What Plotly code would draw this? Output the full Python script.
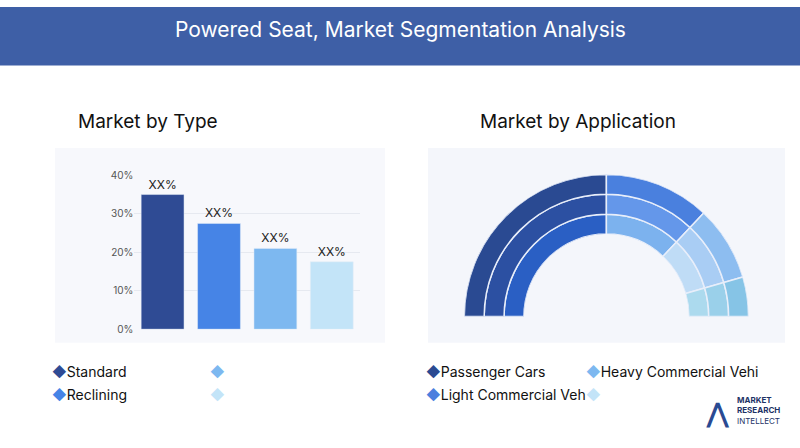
import plotly.graph_objects as go

types = ["Standard", "Reclining", "Type 3", "Type 4"]
type_values = [35, 27.5, 21, 17.5]
type_colors = ["#2f4b94", "#4684e6", "#7db8f0", "#c3e4f8"]
type_legend = ["Standard", "Reclining", "", ""]

apps = ["Passenger Cars", "Light Commercial Vehicles", "Heavy Commercial Vehicles", "Other"]
app_shares = [50, 24, 17, 9]
ring_colors = [
    ["#2a4a92", "#4a80de", "#8dbdf0", "#86c4e6"],
    ["#2c50a2", "#6497ea", "#a9cdf4", "#9ad0ea"],
    ["#2a5fc4", "#7cb2ee", "#bfdcf6", "#acdaee"],
]
app_legend_colors = ["#2a4a92", "#4a80de", "#7db8f0", "#c3e4f8"]
app_labels = ["XX%", "XX%", "XX%", "XX%"]

fig = go.Figure()

fig.add_bar(x=types, y=type_values, marker_color=type_colors, width=0.76,
            text=["XX%"] * 4, textposition="outside", cliponaxis=False,
            textfont=dict(family="Inter", size=12, color="#222"), showlegend=False)

widths = [s * 1.8 for s in app_shares]
centers = []
start = 180
for w in widths:
    centers.append(start - w / 2)
    start -= w
for ring, base in zip([2, 1, 0], [0, 1, 2]):
    fig.add_trace(go.Barpolar(r=[1] * 4, base=[base] * 4, theta=centers, width=widths,
                              marker=dict(color=ring_colors[ring], line=dict(color="#e8eefa", width=1.5)),
                              showlegend=False, subplot="polar"))
label_r = [3.35, 3.3, 3.35, 3.6]
label_theta = [140, 75, 32, 6]
fig.add_trace(go.Scatterpolar(r=label_r, theta=label_theta, mode="text", text=app_labels,
                              textfont=dict(family="Inter", size=11, color="#222"),
                              showlegend=False, subplot="polar"))

fig.update_layout(
    autosize=True, margin=dict(l=0, r=0, t=0, b=0),
    paper_bgcolor="#ffffff", plot_bgcolor="#f7f8fc", bargap=0.24,
    xaxis=dict(domain=[0.168, 0.45], showticklabels=False, showgrid=False, zeroline=False),
    yaxis=dict(domain=[0.261, 0.614], range=[0, 40], tickvals=[0, 10, 20, 30, 40],
               ticktext=["0%", "10%", "20%", "30%", "40%"], gridcolor="#e6e9f0",
               tickfont=dict(family="Inter", size=10, color="#555"), zeroline=False),
    polar=dict(domain=dict(x=[0.576, 0.94], y=[0.29, 0.616]), sector=[0, 180], hole=0.58,
               bgcolor="rgba(0,0,0,0)",
               radialaxis=dict(range=[0, 3], visible=False),
               angularaxis=dict(visible=False, direction="counterclockwise", rotation=0)),
    font=dict(family="Inter"),
)

shapes = [
    dict(type="rect", xref="paper", yref="paper", x0=0, x1=1, y0=1 - 60 / 448, y1=1,
         fillcolor="#3e5fa6", line_width=0, layer="below"),
    dict(type="rect", xref="paper", yref="paper", x0=55 / 800, x1=385 / 800, y0=103 / 448, y1=303 / 448,
         fillcolor="#f7f8fc", line_width=0, layer="below"),
    dict(type="rect", xref="paper", yref="paper", x0=428 / 800, x1=785 / 800, y0=103 / 448, y1=303 / 448,
         fillcolor="#f4f6fb", line_width=0, layer="below"),
]
fig.update_layout(shapes=shapes)


def A(text, px, py, size, color="#111", xanchor="center", **kw):
    return dict(text=text, x=px / 800, y=1 - py / 448, xref="paper", yref="paper",
                xanchor=xanchor, yanchor="middle", showarrow=False,
                font=dict(size=size, color=color, family="Inter"), **kw)


ann = [
    A("Powered Seat, Market Segmentation Analysis", 400, 23, 21, "white"),
    A("Market by Type", 148, 118, 19),
    A("Market by Application", 578, 118, 19),
    A("<b>MARKET<br>RESEARCH</b><br>INTELLECT", 735, 415, 8, "#1d3266", xanchor="left", align="left"),
    A("<b>⋀</b>", 718, 417, 26, "#2a4a92"),
]
type_pos = [(50, 375), (50, 398), (208, 375), (208, 398)]
for (px, py), name, c in zip(type_pos, type_legend, type_colors):
    ann.append(A(f"<span style='color:{c}'>◆</span>{name}", px, py, 14, xanchor="left"))
app_pos = [(424, 375), (424, 398), (584, 375), (584, 398)]
app_names = ["Passenger Cars", "Light Commercial Veh", "Heavy Commercial Vehi", ""]
for (px, py), name, c in zip(app_pos, app_names, app_legend_colors):
    ann.append(A(f"<span style='color:{c}'>◆</span>{name}", px, py, 14, xanchor="left"))
fig.update_layout(annotations=ann)

fig.write_html("out.html", config={"displayModeBar": False, "responsive": True},
               default_width="100vw", default_height="100vh",
               post_script="document.body.style.margin='0';document.documentElement.style.overflow='hidden';"
                           "window.dispatchEvent(new Event('resize'));")
